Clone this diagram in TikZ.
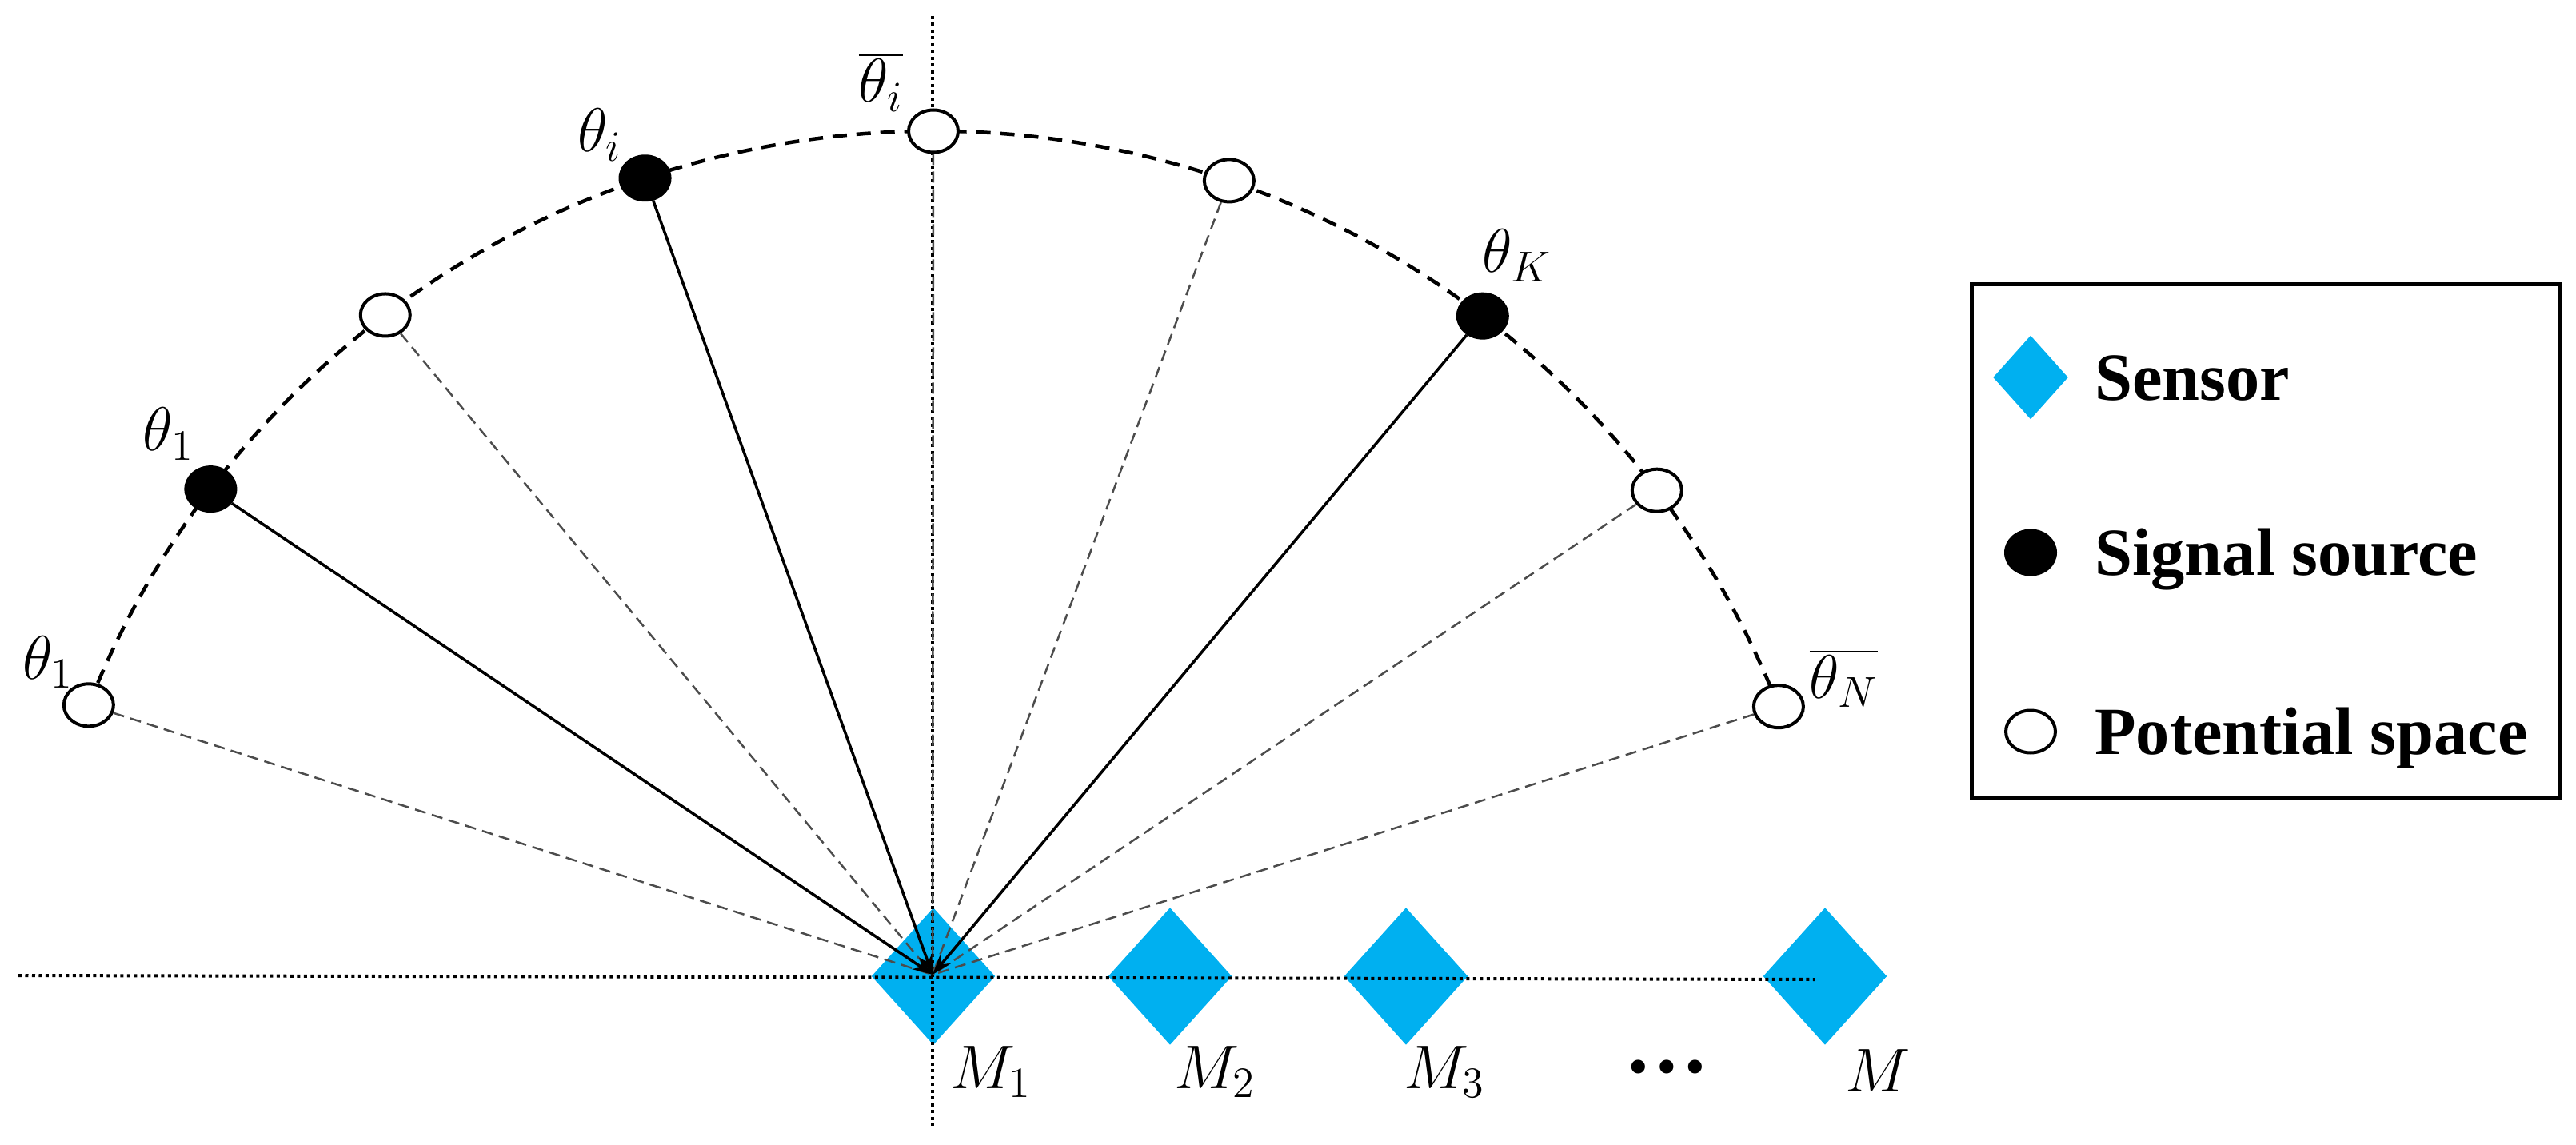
\documentclass[tikz,border=0pt]{standalone}
\usepackage{fix-cm}
\usepackage{fontspec}
\setmainfont{Liberation Serif}
\usetikzlibrary{shapes.geometric, arrows.meta, positioning}
\definecolor{sensorblue}{RGB}{0,176,240}
\tikzstyle{sensor} = [
    diamond,
    fill=sensorblue,
    inner sep=0pt,
    minimum width=1.55cm,
    minimum height=1.72cm
]
\tikzstyle{legsensor} = [
    diamond,
    fill=sensorblue,
    inner sep=0pt,
    minimum width=0.94cm,
    minimum height=1.05cm
]
\tikzstyle{source} = [
    ellipse,
    draw=black,
    fill=black,
    line width=0.03cm,
    inner sep=0pt,
    minimum width=0.63cm,
    minimum height=0.56cm
]
\tikzstyle{potential} = [
    ellipse,
    draw=black,
    fill=white,
    line width=0.04cm,
    inner sep=0pt,
    minimum width=0.62cm,
    minimum height=0.53cm
]
\tikzstyle{arcline} = [line width=0.045cm, dash pattern=on 0.18cm off 0.12cm]
\tikzstyle{axisline} = [line width=0.04cm, dash pattern=on 0.04cm off 0.045cm]
\tikzstyle{potline} = [line width=0.025cm, black!70, dash pattern=on 0.14cm off 0.08cm]
\tikzstyle{arrow} = [line width=0.035cm,->,>={Stealth[length=0.25cm,width=0.17cm]}]
\tikzstyle{anglelabel} = [inner sep=0pt, font=\fontsize{22}{26}\selectfont]
\tikzstyle{legtext} = [
    anchor=west,
    inner sep=0pt,
    text height=16.2pt,
    text depth=0pt,
    font=\fontsize{24}{28}\selectfont\bfseries
]

\begin{document}
\begin{tikzpicture}
\useasboundingbox (0,0) rectangle (32.21,14.31);

% sensor array
\node (M1) [sensor] at (11.67,2.10) {};
\node (M2) [sensor, on grid, right=2.96cm of M1] {};
\node (M3) [sensor, on grid, right=2.95cm of M2] {};
\node (MM) [sensor, on grid, right=5.24cm of M3] {};

\node (lM1) [anglelabel, below right=0cm and 0.21cm of M1.south] {$M_1$};
\node (lM2) [anglelabel, below right=0cm and 0.05cm of M2.south] {$M_2$};
\node (lM3) [anglelabel, below right=0cm and -0.03cm of M3.south] {$M_3$};
\node (lM) [anglelabel, below right=0.04cm and 0.25cm of MM.south] {$M$};
\node (more) [inner sep=0pt, font=\fontsize{30}{34}\selectfont\bfseries] at (20.84,0.97) {…};

% axes
\coordinate (O) at (11.66,2.12);
\coordinate (vtop) at (11.66,14.11);
\coordinate (vbot) at (11.66,0.23);
\coordinate (hleft) at (0.23,2.11);
\coordinate (hright) at (22.69,2.06);
\draw [axisline] (vtop) -- (vbot);
\draw [axisline] (hleft) -- (hright);

% grid of directions
\begin{scope}[shift={(11.67,1.31)}]
\draw [arcline] (158.4:11.36) arc [start angle=158.4, end angle=21.5, radius=11.36];
\node (b1) [potential] at (158.4:11.36) {};
\node (s1) [source] at (142.7:11.36) {};
\node (b2) [potential] at (127.1:11.36) {};
\node (si) [source] at (108.5:11.36) {};
\node (bi) [potential] at (90:11.36) {};
\node (b3) [potential] at (71:11.36) {};
\node (sK) [source] at (52.8:11.36) {};
\node (b4) [potential] at (37.2:11.36) {};
\node (bN) [potential] at (21.5:11.36) {};
\end{scope}

\node (lb1) [anglelabel, above left=0cm and -0.05cm of b1] {$\overline{\theta_1}$};
\node (ls1) [anglelabel, above left=0.15cm and -0.03cm of s1] {$\theta_1$};
\node (lsi) [anglelabel, above left=0cm and 0.05cm of si] {$\theta_i$};
\node (lbi) [anglelabel, above left=0.04cm and 0.14cm of bi] {$\overline{\theta_i}$};
\node (lsK) [anglelabel, above right=0.21cm and -0.24cm of sK] {$\theta_K$};
\node (lbN) [anglelabel, above right=-0.22cm and 0.15cm of bN] {$\overline{\theta_N}$};

\draw [potline] (b1) -- (O);
\draw [potline] (b2) -- (O);
\draw [potline] (bi) -- (O);
\draw [potline] (b3) -- (O);
\draw [potline] (b4) -- (O);
\draw [potline] (bN) -- (O);
\draw [arrow] (s1) -- (O);
\draw [arrow] (si) -- (O);
\draw [arrow] (sK) -- (O);

% legend
\node (legend) [draw, line width=0.045cm, minimum width=7.35cm, minimum height=6.43cm] at (28.33,7.54) {};
\node (legSensor) [legsensor] at (25.39,9.59) {};
\node (legSource) [source, on grid, below=2.19cm of legSensor] {};
\node (legSpace) [potential, on grid, below=2.24cm of legSource] {};
\node (txtSensor) [legtext, right=0.32cm of legSensor] {Sensor};
\node (txtSource) [legtext] at (txtSensor.west |- legSource) {Signal source};
\node (txtSpace) [legtext] at (txtSensor.west |- legSpace) {Potential space};

\end{tikzpicture}
\end{document}
